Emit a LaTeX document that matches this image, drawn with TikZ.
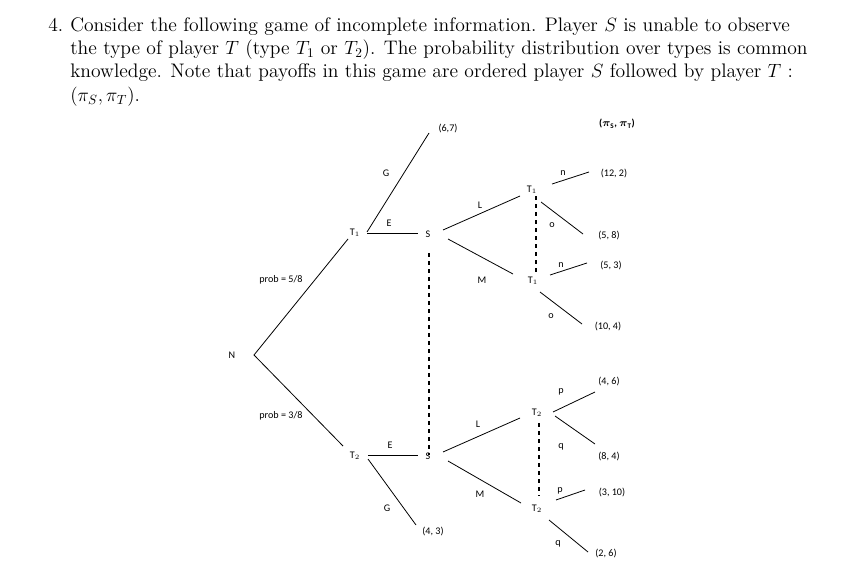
\documentclass[tikz,border=0pt]{standalone}
\usepackage{amsmath}
\usepackage{fontspec}
\newfontfamily\calfont{Carlito}
\begin{document}
\begin{tikzpicture}[x=0.75pt,y=-0.75pt,
  lab/.style={font=\calfont\fontsize{7.6}{8}\selectfont,inner sep=0pt},
  hd/.style={font=\fontsize{14.7}{16}\selectfont,inner sep=0pt,anchor=base west},
  br/.style={line width=0.6pt},
  info/.style={dashed,line width=1.1pt}]
\useasboundingbox (0,0) rectangle (864,567);
\node[hd] (n4) at (48,32) {4.};
\node[hd] (h1) at (70,32) {Consider the following game of incomplete information. Player $S$ is unable to observe};
\node[hd] (h2) at (70,55) {the type of player $T$ (type $T_1$ or $T_2$). The probability distribution over types is common};
\node[hd] (h3) at (70,78) {knowledge. Note that payoffs in this game are ordered player $S$ followed by player $T$ :};
\node[hd] (h4) at (70,102) {$(\pi_S,\pi_T)$.};
% labels
\node[lab] (N) at (232,355) {N};
\node[lab] (T1) at (355,233) {T$_1$};
\node[lab] (S1) at (428,234) {S};
\node[lab] (T2) at (355,456) {T$_2$};
\node[lab] (S2) at (428,456) {S};
\node[lab] (p58) at (281,280) {prob = 5/8};
\node[lab] (p38) at (281,416) {prob = 3/8};
\node[lab] (G1) at (386,173) {G};
\node[lab] (E1) at (389,223) {E};
\node[lab] (E2) at (390,445) {E};
\node[lab] (G2) at (387,508) {G};
\node[lab] (o67) at (448,128) {(6,7)};
\node[lab] (o43) at (433,531) {(4, 3)};
\node[lab] (hdr) at (617,124) {\bfseries ($\boldsymbol{\pi}$\textsubscript{S}, $\boldsymbol{\pi}$\textsubscript{T})};
\node[lab] (L1) at (480,205) {L};
\node[lab] (M1) at (482,280) {M};
\node[lab] (L2) at (478,424) {L};
\node[lab] (M2) at (480,494) {M};
\node[lab] (T1a) at (532,190) {T$_1$};
\node[lab] (T1b) at (533,281) {T$_1$};
\node[lab] (T2a) at (537,413) {T$_2$};
\node[lab] (T2b) at (537,509) {T$_2$};
\node[lab] (na) at (563,173) {n};
\node[lab] (oa) at (552,225) {o};
\node[lab] (nb) at (561,265) {n};
\node[lab] (ob) at (551,316) {o};
\node[lab] (pa) at (561,392) {p};
\node[lab] (qa) at (561,447) {q};
\node[lab] (pb) at (560,491) {p};
\node[lab] (qb) at (558,544) {q};
\node[lab] (r1) at (614,173) {(12, 2)};
\node[lab] (r2) at (609,235) {(5, 8)};
\node[lab] (r3) at (611,265) {(5, 3)};
\node[lab] (r4) at (608,326) {(10, 4)};
\node[lab] (r5) at (609,381) {(4, 6)};
\node[lab] (r6) at (609,456) {(8, 4)};
\node[lab] (r7) at (612,492) {(3, 10)};
\node[lab] (r8) at (606,553) {(2, 6)};
% branches
\draw[br] (348,239) -- (254,355) -- (343,446);
\draw[br] (367,232) -- (429,133);
\draw[br] (367,233) -- (418,233);
\draw[br] (368,455) -- (418,455);
\draw[br] (368,459) -- (416,525);
\draw[br] (443,230) -- (520,196);
\draw[br] (448,239) -- (513,274);
\draw[br] (443,452) -- (520,418);
\draw[br] (448,461) -- (521,503);
\draw[br] (552,184) -- (589,172);
\draw[br] (541,202) -- (583,234);
\draw[br] (550,275) -- (587,263);
\draw[br] (540,292) -- (582,324);
\draw[br] (553,412) -- (595,392);
\draw[br] (555,416) -- (595,444);
\draw[br] (556,500) -- (585,490);
\draw[br] (549,520) -- (588,552);
% information sets
\draw[info] (429,253) -- (429,455);
\draw[info] (536,196) -- (536,273);
\draw[info] (539,423) -- (539,496);
\end{tikzpicture}
\end{document}
